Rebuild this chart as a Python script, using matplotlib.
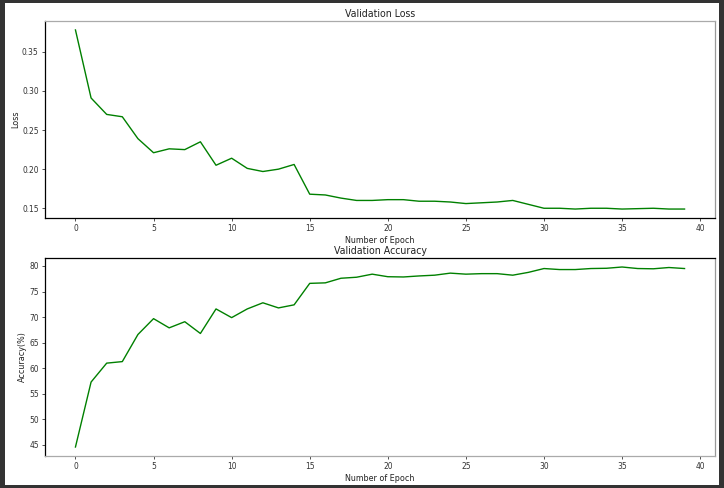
import matplotlib
matplotlib.use('Agg')
import matplotlib.pyplot as plt
from matplotlib.patches import Rectangle

# valores
epochs = list(range(40))
val_loss = [0.378, 0.291, 0.270, 0.267, 0.239, 0.221, 0.226, 0.225, 0.235, 0.205,
            0.214, 0.201, 0.197, 0.200, 0.206, 0.168, 0.167, 0.163, 0.160, 0.160,
            0.161, 0.161, 0.159, 0.159, 0.158, 0.156, 0.157, 0.158, 0.160, 0.155,
            0.150, 0.150, 0.149, 0.150, 0.150, 0.149, 0.1495, 0.150, 0.149, 0.149]
val_acc = [44.6, 57.3, 61.0, 61.3, 66.6, 69.7, 67.9, 69.1, 66.8, 71.6,
           69.9, 71.6, 72.8, 71.8, 72.4, 76.6, 76.7, 77.6, 77.8, 78.4,
           77.9, 77.85, 78.05, 78.2, 78.6, 78.4, 78.5, 78.5, 78.2, 78.75,
           79.5, 79.3, 79.3, 79.5, 79.55, 79.8, 79.5, 79.45, 79.7, 79.5]

# fuente un poco mas estrecha (DejaVu Sans Condensed)
plt.rcParams['font.stretch'] = 'condensed'

W, H = 724, 488
fig = plt.figure(figsize=(W / 100, H / 100), dpi=100, facecolor='#333333')
# fondo blanco del area de la figura
fig.patches.append(Rectangle((5 / W, 3 / H), 714 / W, 482 / H, transform=fig.transFigure,
                             facecolor='white', edgecolor='none', zorder=-10))

def box(l, t, r, b):
    return [l / W, 1 - b / H, (r - l) / W, (b - t) / H]

ax1 = fig.add_axes(box(45, 21, 715, 218))
ax2 = fig.add_axes(box(45, 258, 715, 456))

for ax, data, title, ylabel in [(ax1, val_loss, 'Validation Loss', 'Loss'),
                                (ax2, val_acc, 'Validation Accuracy', 'Accuracy(%)')]:
    ax.plot(epochs, data, color='green', linewidth=1.0)
    ax.set_title(title, fontsize=7.6, pad=3, color='#222222')
    ax.set_xlabel('Number of Epoch', fontsize=6.4, labelpad=2, color='#222222')
    ax.set_ylabel(ylabel, fontsize=6.4, labelpad=1.5, color='#222222')
    ax.tick_params(labelsize=6, length=2.5, width=0.6, pad=2, colors='#333333')
    ax.set_xticks([0, 5, 10, 15, 20, 25, 30, 35, 40])
    for s in ax.spines.values():
        s.set_linewidth(0.9)
    ax.spines['right'].set_color('#999999')

ax1.spines['top'].set_color('#aaaaaa')
ax2.spines['bottom'].set_color('#aaaaaa')
ax1.set_yticks([0.15, 0.20, 0.25, 0.30, 0.35])
ax2.set_yticks([45, 50, 55, 60, 65, 70, 75, 80])

fig.savefig('out.png', dpi=100, facecolor=fig.get_facecolor())
plt.close(fig)
